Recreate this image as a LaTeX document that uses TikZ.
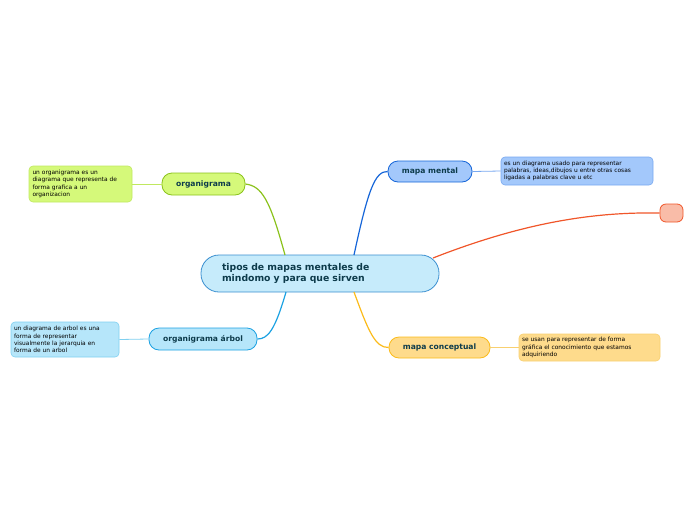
\documentclass[tikz,border=0pt]{standalone}
\usepackage{fontspec}
\setmainfont{DejaVu Sans}
\definecolor{txt}{HTML}{0D3B4B}
\definecolor{cF}{HTML}{C6EBFB}\definecolor{cD}{HTML}{3A8FD0}
\definecolor{gF}{HTML}{D5F97A}\definecolor{gD}{HTML}{8BC21C}\definecolor{gL}{HTML}{C0E860}
\definecolor{bF}{HTML}{B6E6FA}\definecolor{bD}{HTML}{1BA1E2}\definecolor{bL}{HTML}{80D0F0}
\definecolor{mF}{HTML}{A3C8FB}\definecolor{mD}{HTML}{1565D8}\definecolor{mL}{HTML}{78A8F0}
\definecolor{rF}{HTML}{F9BCA8}\definecolor{rD}{HTML}{F0562A}
\definecolor{yF}{HTML}{FEDB8C}\definecolor{yD}{HTML}{FBBB1A}\definecolor{yL}{HTML}{F8D070}
\begin{document}
\begin{tikzpicture}[x=1pt,y=-1pt,
  topic/.style={rounded corners=#1, draw, line width=0.8pt, inner sep=0pt, font=\bfseries\fontsize{7.6}{9}\selectfont, text=txt, align=center},
  note/.style={rounded corners=4pt, draw, line width=0.6pt, inner sep=0pt, font=\fontsize{5.9}{7.3}\selectfont, text=black, align=left, text width=#1},
  con/.style={line width=1.2pt}]
\useasboundingbox (0,0) rectangle (696,520);
\node[topic=18pt, fill=cF, draw=cD, text width=196pt, inner xsep=21pt, minimum height=37pt, font=\bfseries\fontsize{9.3}{11.5}\selectfont, text=txt, align=left] (c) at (320,273.5) {tipos de mapas mentales de\\mindomo y para que sirven};
\node[topic=10pt, fill=gF, draw=gD, minimum width=83pt, minimum height=22pt] (o) at (203.5,184) {organigrama};
\node[note=96pt, fill=gF, draw=gL, minimum width=103pt, minimum height=36pt] (on) at (80.5,184) {un organigrama es un\\diagrama que representa de\\forma grafica a un\\organizacion};
\node[topic=10pt, fill=bF, draw=bD, minimum width=108pt, minimum height=22pt] (a) at (203,339) {organigrama árbol};
\node[note=102pt, fill=bF, draw=bL, minimum width=108pt, minimum height=35pt] (an) at (65,339.5) {un diagrama de arbol es una\\forma de representar\\visualmente la jerarquia en\\forma de un arbol};
\node[topic=10pt, fill=mF, draw=mD, minimum width=84pt, minimum height=21pt] (m) at (430,171.5) {mapa mental};
\node[note=146pt, fill=mF, draw=mL, minimum width=152pt, minimum height=28pt] (mn) at (577,171) {es un diagrama usado para representar\\palabras, ideas,dibujos u entre otras cosas\\ligadas a palabras clave u etc};
\node[rounded corners=6pt, draw=rD, fill=rF, line width=0.8pt, minimum width=23pt, minimum height=18pt, inner sep=0pt] (r) at (671.5,213) {};
\node[topic=10pt, fill=yF, draw=yD, minimum width=101pt, minimum height=21pt] (k) at (439.5,347.5) {mapa conceptual};
\node[note=135pt, fill=yF, draw=yL, minimum width=141pt, minimum height=27pt] (kn) at (589.5,347.5) {se usan para representar de forma\\gráfica el conocimiento que estamos\\adquiriendo};
\coordinate (c1) at (285,255);
\coordinate (c2) at (354,255);
\coordinate (c3) at (433,258);
\coordinate (c4) at (354,292);
\coordinate (c5) at (286,292);
\draw[con, draw=gD] (c1) .. controls (270,200) and (262,186) .. (o.east);
\draw[con, draw=mD] (c2) .. controls (368,190) and (375,171) .. (m.west);
\draw[con, draw=rD] (c3) .. controls (530,220) and (600,212) .. (r.west);
\draw[con, draw=yD] (c4) .. controls (368,330) and (375,348) .. (k.west);
\draw[con, draw=bD] (c5) .. controls (275,330) and (268,339) .. (a.east);
\draw[line width=0.8pt, draw=gL] (o.west) -- (on.east);
\draw[line width=0.8pt, draw=bL] (a.west) -- (an.east);
\draw[line width=0.8pt, draw=mL] (m.east) -- (mn.west);
\draw[line width=0.8pt, draw=yL] (k.east) -- (kn.west);
\end{tikzpicture}
\end{document}
